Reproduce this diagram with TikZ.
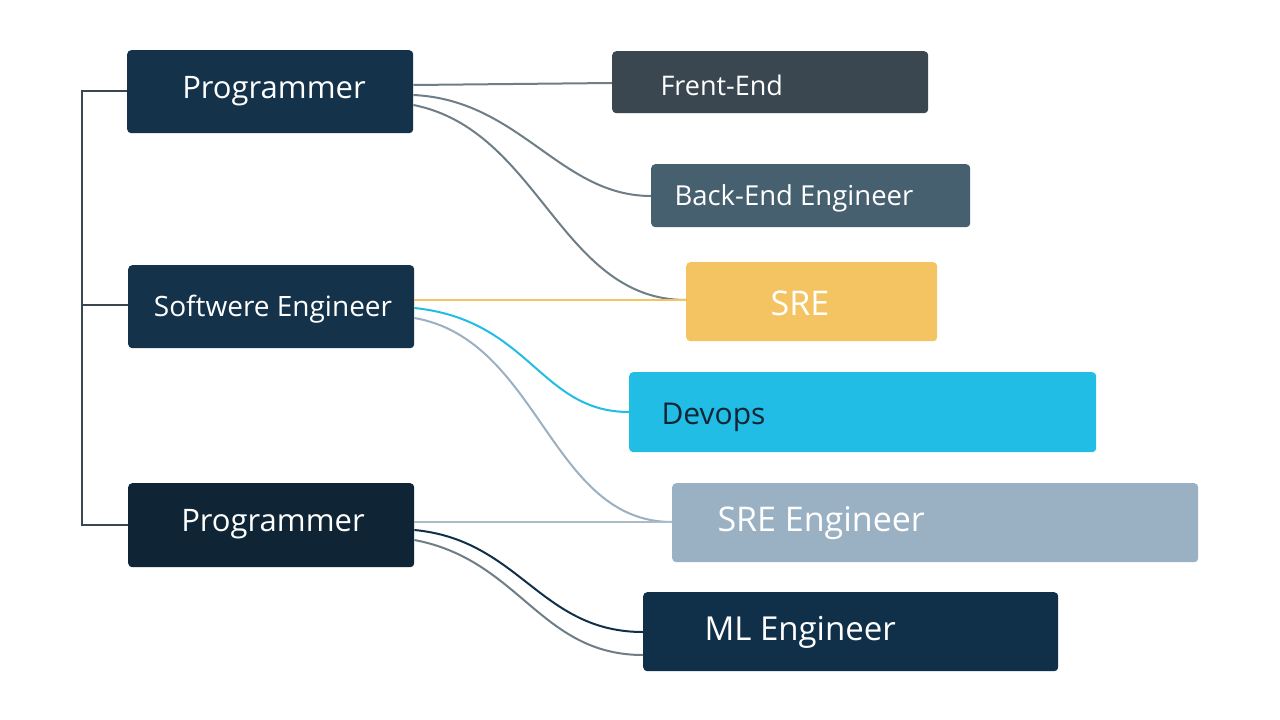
\documentclass[tikz,border=0pt]{standalone}
\usepackage{fontspec}
\setmainfont{Open Sans}
\begin{document}
\begin{tikzpicture}[x=1pt,y=-1pt,
  box/.style={rounded corners=4pt, inner sep=0pt, anchor=north west},
  lbl/.style={text=white},
  wire/.style={line width=2pt}]
\useasboundingbox[fill=white] (0,0) rectangle (1280,720);
\definecolor{navy}{HTML}{14324A}
\definecolor{navyd}{HTML}{0F2535}
\definecolor{fe}{HTML}{3A4750}
\definecolor{be}{HTML}{46606F}
\definecolor{sre}{HTML}{F5C462}
\definecolor{dev}{HTML}{22BDE5}
\definecolor{sree}{HTML}{9AB0C3}
\definecolor{ml}{HTML}{10304A}
\definecolor{gw}{HTML}{6E7D86}
\definecolor{lw}{HTML}{A9BCC8}
% boxes
\node[box, fill=navy, minimum width=286pt, minimum height=83pt] (p1) at (127,50) {};
\node[lbl, font=\fontsize{31}{36}\selectfont] at (274,91) {Programmer};
\node[box, fill=navy, minimum width=286pt, minimum height=83pt] (se) at (128,265) {};
\node[lbl, font=\fontsize{28}{32}\selectfont] at (273,309) {Softwere Engineer};
\node[box, fill=navyd, minimum width=286pt, minimum height=84pt] (p2) at (128,483) {};
\node[lbl, font=\fontsize{31}{36}\selectfont] at (273,524) {Programmer};
\node[box, fill=fe, minimum width=316pt, minimum height=62pt] (fe) at (612,51) {};
\node[lbl, font=\fontsize{27}{32}\selectfont, anchor=west] at (657,85) {Frent-End};
\node[box, fill=be, minimum width=319pt, minimum height=63pt] (be) at (651,164) {};
\node[lbl, font=\fontsize{27.5}{32}\selectfont, anchor=west] at (671,198) {Back-End Engineer};
\node[box, fill=sre, minimum width=251pt, minimum height=79pt] (sr) at (686,262) {};
\node[lbl, font=\fontsize{34}{40}\selectfont] at (800,303) {SRE};
\node[box, fill=dev, minimum width=467pt, minimum height=80pt] (dv) at (629,372) {};
\node[lbl, text=navyd, font=\fontsize{30}{36}\selectfont, anchor=west] at (658,417) {Devops};
\node[box, fill=sree, minimum width=526pt, minimum height=79pt] (sx) at (672,483) {};
\node[lbl, font=\fontsize{34}{40}\selectfont, anchor=west] at (714,523) {SRE Engineer};
\node[box, fill=ml, minimum width=415pt, minimum height=79pt] (ml) at (643,592) {};
\node[lbl, font=\fontsize{33}{38}\selectfont, anchor=west] at (701,632) {ML Engineer};
% bracket
\draw[wire, line width=1.6pt, fe] (p1.west |- 0,91) -- (82,91) -- (82,525) -- (p2.west |- 0,525);
\draw[wire, line width=1.6pt, fe] (82,305) -- (se.west |- 0,305);
% connectors
\draw[wire, gw] (p1.east |- 0,85) -- (fe.west |- 0,83);
\draw[wire, gw] (p1.east |- 0,95) .. controls (520,100) and (560,196) .. (be.west |- 0,196);
\draw[wire, gw] (p1.east |- 0,105) .. controls (540,130) and (560,300) .. (sr.west |- 0,300);
\draw[wire, sre] (se.east |- 0,300) -- (sr.west |- 0,300);
\draw[wire, dev] (se.east |- 0,308) .. controls (530,320) and (540,412) .. (dv.west |- 0,412);
\draw[wire, sree] (se.east |- 0,318) .. controls (540,340) and (550,522) .. (sx.west |- 0,522);
\draw[wire, lw] (p2.east |- 0,522) -- (sx.west |- 0,522);
\draw[wire, ml] (p2.east |- 0,530) .. controls (520,540) and (540,632) .. (ml.west |- 0,632);
\draw[wire, gw] (p2.east |- 0,540) .. controls (520,560) and (540,655) .. (ml.west |- 0,655);
\end{tikzpicture}
\end{document}
